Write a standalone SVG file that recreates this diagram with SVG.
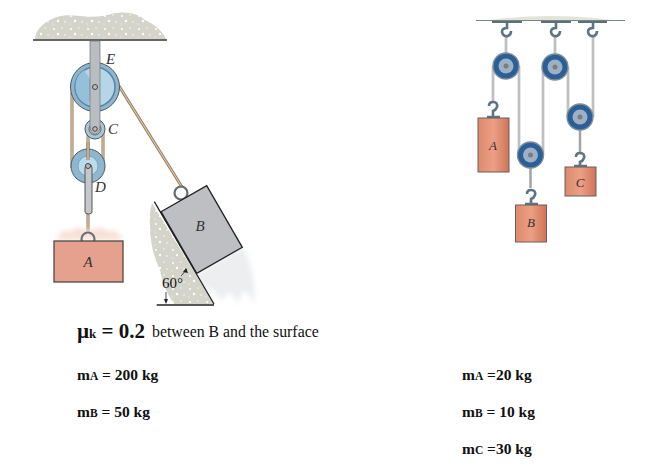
<svg xmlns="http://www.w3.org/2000/svg" width="647" height="469" viewBox="0 0 647 469">
<style>
.ser{font-family:"Liberation Serif","Times New Roman",serif;fill:#111}
.it{font-style:italic;fill:#333}
.b{font-weight:700;font-size:15.5px}
.sm{font-size:11.5px}
.rope{fill:none;stroke:#8f7558;stroke-width:3}
.rope2{fill:none;stroke:#d9c2a4;stroke-width:1.4}
.gr{fill:none;stroke:#a3a4a9;stroke-width:2.5}
.gr2{fill:none;stroke:#e2e3e5;stroke-width:.9}
.bk{fill:none;stroke:#222;stroke-width:1.3}
.block{fill:#e5a18d;stroke:#4a4a4a;stroke-width:1.3}
.cb{stroke:#6a5f5f;stroke-width:1;fill:url(#cop)}
.hook{fill:none;stroke:#5d7482;stroke-width:2.6}
.pr{fill:#2a5f97;stroke:#7f8d99;stroke-width:1.3}
.pc{fill:#9db1c2}
.pp{fill:#7c7d80}
</style>
<defs>
<filter id="bl" x="-30%" y="-30%" width="160%" height="160%"><feGaussianBlur stdDeviation="2.5"/></filter>
<filter id="bs" x="-20%" y="-20%" width="140%" height="140%"><feGaussianBlur stdDeviation="0.6"/></filter>
<pattern id="dots" width="17" height="13" patternUnits="userSpaceOnUse">
<rect width="17" height="13" fill="#d4d4ca"/>
<circle cx="3" cy="3" r="1" fill="#fff"/><circle cx="11" cy="2" r=".7" fill="#fff"/><circle cx="7" cy="8" r="1.2" fill="#fff"/><circle cx="14" cy="9" r=".8" fill="#fff"/><circle cx="2" cy="11" r=".6" fill="#fff"/>
</pattern>
<linearGradient id="cop" x1="0" x2="1" y1="0" y2="0"><stop offset="0" stop-color="#dc8a6c"/><stop offset=".5" stop-color="#ec9f85"/><stop offset="1" stop-color="#cf7458"/></linearGradient>
</defs>

<g id="ceiling-left">
<path d="M35 39 C36 30 42 24 50 20 C60 14 70 15 80 16 C95 18 105 16 115 13 C130 11 140 15 145 20 C155 24 163 32 166 39Z" fill="url(#dots)" filter="url(#bs)"/>
<line x1="33" y1="40" x2="167" y2="40" stroke="#333" stroke-width="1.4"/>
</g>

<g id="connectors">
<path class="rope" d="M72 92V168M119 86L182 187M88 130V150M103 130V170M88 212V232"/>
<path class="rope2" d="M72 92V168M119 86L182 187M88 130V150M103 130V170M88 212V232"/>
<path class="gr" d="M506 36V60M493 66V101M519 66V155M543 67V155M555 36V60M568 67V117M593 36V117M530.500 165V188M580 127V152"/>
<path class="gr2" d="M506 36V60M493 66V101M519 66V155M543 67V155M555 36V60M568 67V117M593 36V117"/>
</g>

<g id="pulley-E">
<circle cx="95" cy="87" r="24.5" fill="#8fb6cf" stroke="#4a5a66" stroke-width="1"/>
<circle cx="95" cy="87" r="20" fill="#b6d6e8" stroke="#5b85a0" stroke-width="1.6"/>
<path d="M84 70A20 20 0 0 0 88 105L95 87Z" fill="#94c0da"/>
</g>
<g id="pulley-D">
<circle cx="88" cy="166" r="17" fill="#8fb6cf" stroke="#4a5a66" stroke-width="1"/>
<circle cx="88" cy="166" r="10" fill="#bcdcec" stroke="#7da6c0" stroke-width="1"/>
<path class="rope" d="M88 142V160"/><path class="rope2" d="M88 142V160"/>
<path d="M85 168Q85 164 88.500 164T92 168V212Q92 214 88.500 214T85 212Z" fill="#c5c7cc" stroke="#555" stroke-width="1"/>
<circle cx="88" cy="166" r="2.500" fill="#bbb" stroke="#444"/>
<text class="ser it" x="95" y="192" font-size="15">D</text>
</g>
<g id="pulley-C">
<circle cx="95" cy="129" r="10" fill="#a7c7da" stroke="#4a5a66" stroke-width="1"/>
<circle cx="95" cy="129" r="6" fill="#d6d0b8" stroke="#666" stroke-width="1"/>
<path d="M90 41H100V125Q100 134 95 134T90 125Z" fill="#b9bcc1" stroke="#707277" stroke-width=".7"/>
<circle cx="95" cy="129" r="2.300" fill="#bbb" stroke="#444"/>
<circle cx="95" cy="87" r="2.500" fill="#bbb" stroke="#444"/>
<text class="ser it" x="108" y="134" font-size="15">C</text>
<text class="ser it" x="106" y="64" font-size="15">E</text>
</g>

<g id="block-A">
<path d="M57 240Q62 226 70 232Q78 224 84 230L92 230Q102 224 108 232Q116 226 122 240Z" fill="#f8e0d8" filter="url(#bl)"/>
<circle cx="88" cy="239" r="6.500" fill="none" stroke="#6d7176" stroke-width="2.200"/>
<rect class="block" x="54" y="241" width="69" height="41"/>
<text class="ser it" x="88" y="267" font-size="15" text-anchor="middle">A</text>
</g>

<g id="block-B">
<path d="M195 275L242 247C252 262 256 285 254 305C248 290 242 285 238 305C232 290 226 290 222 302C216 290 208 286 202 290Z" fill="#eceef0" filter="url(#bl)"/>
<circle cx="181" cy="193" r="6.500" fill="none" stroke="#666a6e" stroke-width="2.200"/>
<path d="M161 211.700L206.700 185.700L242.300 247.300L196.700 273.300Z" fill="#bdbfc3" stroke="#222" stroke-width="1.300"/>
<text class="ser it" x="200" y="231" font-size="15" text-anchor="middle">B</text>
</g>

<g id="incline">
<path d="M152 203L214 304H174Q163 288 160 270Q150 250 150 225Q149 212 152 203Z" fill="url(#dots)" filter="url(#bs)"/>
<path class="bk" d="M154.300 201.700L214 304M156.700 305H214"/>
<text class="ser" x="162" y="288" font-size="15" fill="#333">60°</text>
<path d="M181 276L187 269M166 292V302" stroke="#222" stroke-width=".8" fill="none"/>
<path d="M186 268L188 273L183 272ZM166 304L164 299H168Z" fill="#222"/>
</g>

<g id="ceiling-right">
<path d="M490 20Q550 12 612 20Z" fill="#e2e3d9" filter="url(#bs)"/>
<line x1="476" y1="20.500" x2="625" y2="20.500" stroke="#7b8585" stroke-width="1.100"/>
<path d="M492 22h30M541 22h30M578 22h29" stroke="#5b6f7c" stroke-width="2.200"/>
<path class="hook" d="M507 23V28Q502 28 502 32Q503 37 508 36Q511 35 511 31M556 23V28Q551 28 551 32Q552 37 557 36Q560 35 560 31M593 23V28Q588 28 588 32Q589 37 594 36Q597 35 597 31"/>
</g>
<g id="pulley-1"><circle class="pr" cx="506" cy="66" r="13"/><circle class="pc" cx="506" cy="66" r="7.500"/><circle class="pp" cx="506" cy="66" r="2.500"/></g>
<g id="pulley-2"><circle class="pr" cx="555" cy="67" r="13"/><circle class="pc" cx="555" cy="67" r="7.500"/><circle class="pp" cx="555" cy="67" r="2.500"/></g>
<g id="pulley-3"><circle class="pr" cx="580" cy="117" r="13"/><circle class="pc" cx="580" cy="117" r="7.500"/><circle class="pp" cx="580" cy="117" r="2.500"/></g>
<g id="pulley-4"><circle class="pr" cx="530.500" cy="155" r="13"/><circle class="pc" cx="530.500" cy="155" r="7.500"/><circle class="pp" cx="530.500" cy="155" r="2.500"/></g>

<g id="weight-A">
<path class="hook" d="M489 106Q489 102 493 102Q498 102 497 107Q496 110 493 111V117M487 117h13"/>
<rect class="cb" x="478" y="118" width="31" height="54"/>
<text class="ser it" x="493" y="150" font-size="13" text-anchor="middle">A</text>
</g>
<g id="weight-B">
<path class="hook" d="M527 194Q527 190 531 190Q536 190 535 195Q534 198 531 199V204M525 204h13"/>
<rect class="cb" x="515.500" y="205" width="31" height="37"/>
<text class="ser it" x="531" y="227" font-size="13" text-anchor="middle">B</text>
</g>
<g id="weight-C">
<path class="hook" d="M576 157Q576 153 580 153Q585 153 584 158Q583 161 580 162V166M574 166h13"/>
<rect class="cb" x="565" y="167" width="31" height="29"/>
<text class="ser it" x="580" y="187" font-size="13" text-anchor="middle">C</text>
</g>

<g id="labels">
<text class="ser" x="77" y="338" font-weight="700" font-size="21">µ<tspan font-size="13">k</tspan> = 0.2</text>
<text class="ser" x="152" y="336.500" font-size="15.800">between B and the surface</text>
<text class="ser b" x="77" y="380">m<tspan class="sm">A</tspan> = 200 kg</text>
<text class="ser b" x="77" y="417">m<tspan class="sm">B</tspan> = 50 kg</text>
<text class="ser b" x="462" y="380">m<tspan class="sm">A</tspan> =20 kg</text>
<text class="ser b" x="462" y="417">m<tspan class="sm">B</tspan> = 10 kg</text>
<text class="ser b" x="462" y="454">m<tspan class="sm">C</tspan> =30 kg</text>
</g>
</svg>
